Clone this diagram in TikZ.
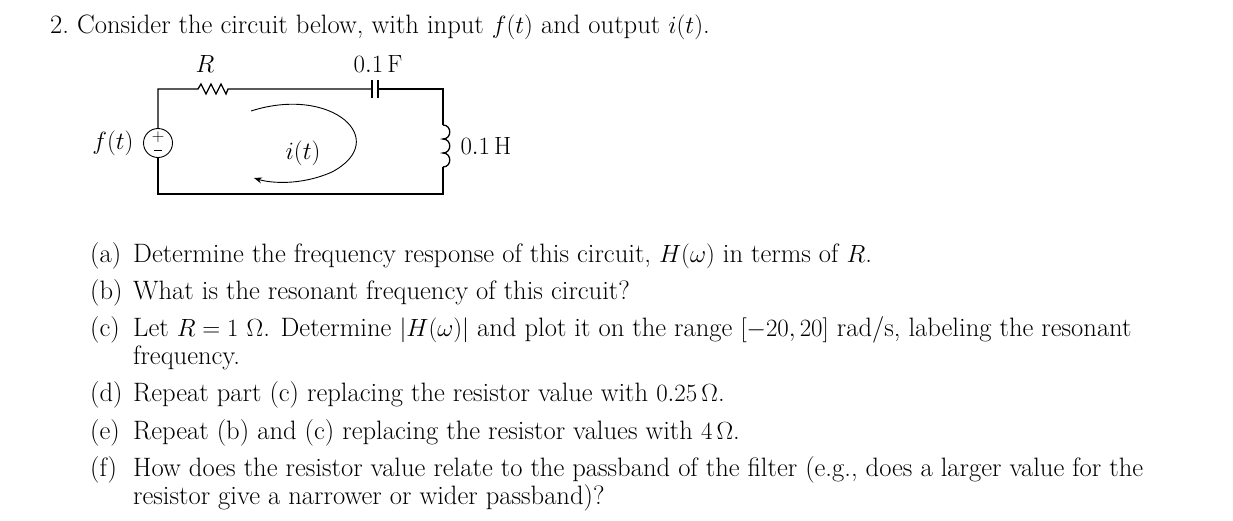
\documentclass[tikz,border=0pt]{standalone}
\usepackage{amsmath}
\usetikzlibrary{arrows.meta}
\begin{document}
\begin{tikzpicture}[x=1pt,y=-1pt,
  txt/.style={anchor=base west,inner sep=0pt,font=\fontsize{26.6}{34}\selectfont,align=left},
  lbl/.style={inner sep=0pt,font=\fontsize{23}{26}\selectfont},
  wire/.style={line width=1.3pt}]
\useasboundingbox (0,0) rectangle (1233,520);
% text
\node[txt] (q) at (50,33) {2.\ Consider the circuit below, with input $f(t)$ and output $i(t)$.};
\node[txt] (la) at (90,262) {(a)}; \node[txt] (ta) at (133,262) {Determine the frequency response of this circuit, $H(\omega)$ in terms of $R$.};
\node[txt] (lb) at (90,299) {(b)}; \node[txt] (tb) at (133,299) {What is the resonant frequency of this circuit?};
\node[txt] (lc) at (90,336) {(c)}; \node[txt] (tc) at (133,336) {Let $R=1\ \Omega$. Determine $|H(\omega)|$ and plot it on the range $[-20,20]$ rad/s, labeling the resonant};
\node[txt] (tc2) at (133,364) {frequency.};
\node[txt] (ld) at (90,401) {(d)}; \node[txt] (td) at (133,401) {Repeat part (c) replacing the resistor value with $0.25\,\Omega$.};
\node[txt] (le) at (90,439) {(e)}; \node[txt] (te) at (133,439) {Repeat (b) and (c) replacing the resistor values with $4\,\Omega$.};
\node[txt] (lf) at (90,476) {(f)}; \node[txt] (tf) at (133,476) {How does the resistor value relate to the passband of the filter (e.g., does a larger value for the};
\node[txt] (tf2) at (133,504) {resistor give a narrower or wider passband)?};
% circuit
\coordinate (tl) at (158,89); \coordinate (tr) at (443,89);
\coordinate (bl) at (158,194); \coordinate (br) at (443,194);
\node[draw,circle,line width=0.9pt,minimum size=29pt,inner sep=0pt] (src) at (158,143) {};
\node[inner sep=0pt,font=\fontsize{17}{17}\selectfont] (sp) at (158,137) {$+$};
\draw[line width=0.7pt] (154,150) -- (162,150);
\coordinate (r1) at (194,89); \coordinate (r2) at (231,89);
\coordinate (c1) at (372,89); \coordinate (c2) at (378,89);
\coordinate (l1) at (443,125); \coordinate (l2) at (443,167);
\draw[wire] (src.north) -- (tl) -- (r1) -- ++(4,0) -- ++(3,-5) -- ++(5,10) -- ++(5,-10) -- ++(5,10) -- ++(5,-10) -- ++(5,10) -- ++(2,-5) -- (r2) -- (c1);
\draw[wire] (c1)++(0,-9) -- ++(0,18);
\draw[wire] (c2)++(0,-9) -- ++(0,18);
\draw[wire] (c2) -- (tr) -- (l1);
\draw[wire] (l1) .. controls (452,125) and (452,139) .. (443,139)
  .. controls (452,139) and (452,153) .. (443,153)
  .. controls (452,153) and (452,167) .. (443,167);
\draw[wire] (l2) -- (br) -- (bl) -- (src.south);
\draw[line width=0.9pt,-{Stealth[length=8pt,width=6pt]}] (251,111) .. controls (332,85) and (392,140) .. (332,172) .. controls (300,186) and (270,183) .. (254,178);
\node[lbl] (lR) at (205,64) {$R$};
\node[lbl] (lC) at (378,64) {$0.1\,\mathrm{F}$};
\node[lbl] (lf) at (113,143) {$f(t)$};
\node[lbl] (li) at (303,153) {$i(t)$};
\node[lbl] (lH) at (486,146) {$0.1\,\mathrm{H}$};
\end{tikzpicture}
\end{document}
